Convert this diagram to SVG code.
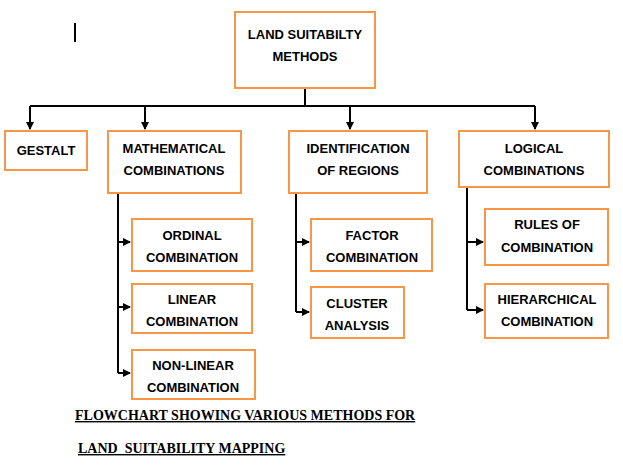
<svg xmlns="http://www.w3.org/2000/svg" width="623" height="465" viewBox="0 0 623 465">
<style>
.b{fill:#fff;stroke:#f79646;stroke-width:2}
.t{font-family:"Liberation Sans",Arial,sans-serif;font-weight:bold;font-size:13px;fill:#000;text-anchor:middle}
.c{stroke:#000;stroke-width:2;fill:none}
.cap{font-family:"Liberation Serif","Times New Roman",serif;font-weight:bold;font-size:14px;text-decoration:underline}
</style>
<defs><marker id="a" markerWidth="8" markerHeight="8" refX="7" refY="4" orient="auto" markerUnits="userSpaceOnUse"><path d="M0,0L8,4L0,8z" fill="#000"/></marker></defs>
<rect x="74" y="23" width="2" height="19" fill="#000"/>
<g id="connectors">
<path class="c" d="M305,88V106M30,106H535"/>
<path class="c" d="M30,106V129" marker-end="url(#a)"/>
<path class="c" d="M145,106V129" marker-end="url(#a)"/>
<path class="c" d="M350,106V129" marker-end="url(#a)"/>
<path class="c" d="M535,106V129" marker-end="url(#a)"/>
<path class="c" d="M118,193V373"/>
<path class="c" d="M118,242H130" marker-end="url(#a)"/>
<path class="c" d="M118,307H130" marker-end="url(#a)"/>
<path class="c" d="M118,373H130" marker-end="url(#a)"/>
<path class="c" d="M296,193V312"/>
<path class="c" d="M296,242H309" marker-end="url(#a)"/>
<path class="c" d="M296,312H309" marker-end="url(#a)"/>
<path class="c" d="M467,187V310"/>
<path class="c" d="M467,242H483" marker-end="url(#a)"/>
<path class="c" d="M467,310H483" marker-end="url(#a)"/>
</g>
<g id="top"><rect class="b" x="235" y="12" width="140" height="76"/><text class="t" x="305" y="39">LAND SUITABILTY</text><text class="t" x="305" y="61">METHODS</text></g>
<g id="gestalt"><rect class="b" x="5" y="131" width="82" height="39"/><text class="t" x="46" y="155">GESTALT</text></g>
<g id="math"><rect class="b" x="108" y="131" width="133" height="62"/><text class="t" x="174" y="153">MATHEMATICAL</text><text class="t" x="174" y="175">COMBINATIONS</text></g>
<g id="ident"><rect class="b" x="289" y="131" width="138" height="62"/><text class="t" x="358" y="153">IDENTIFICATION</text><text class="t" x="358" y="175">OF REGIONS</text></g>
<g id="logical"><rect class="b" x="459" y="131" width="150" height="56"/><text class="t" x="534" y="153">LOGICAL</text><text class="t" x="534" y="175">COMBINATIONS</text></g>
<g id="ordinal"><rect class="b" x="132" y="219" width="120" height="52"/><text class="t" x="192" y="240">ORDINAL</text><text class="t" x="192" y="262">COMBINATION</text></g>
<g id="linear"><rect class="b" x="132" y="284" width="120" height="49"/><text class="t" x="192" y="304">LINEAR</text><text class="t" x="192" y="326">COMBINATION</text></g>
<g id="nonlinear"><rect class="b" x="132" y="350" width="123" height="49"/><text class="t" x="193" y="370">NON-LINEAR</text><text class="t" x="193" y="392">COMBINATION</text></g>
<g id="factor"><rect class="b" x="311" y="219" width="121" height="52"/><text class="t" x="372" y="240">FACTOR</text><text class="t" x="372" y="262">COMBINATION</text></g>
<g id="cluster"><rect class="b" x="311" y="287" width="93" height="51"/><text class="t" x="357" y="308">CLUSTER</text><text class="t" x="357" y="330">ANALYSIS</text></g>
<g id="rules"><rect class="b" x="485" y="209" width="123" height="56"/><text class="t" x="547" y="229">RULES OF</text><text class="t" x="547" y="252">COMBINATION</text></g>
<g id="hier"><rect class="b" x="485" y="284" width="123" height="54"/><text class="t" x="547" y="304">HIERARCHICAL</text><text class="t" x="547" y="326">COMBINATION</text></g>
<text class="cap" x="75" y="420">FLOWCHART SHOWING VARIOUS METHODS FOR</text>
<text class="cap" x="78" y="453" xml:space="preserve">LAND  SUITABILITY MAPPING</text>
</svg>
